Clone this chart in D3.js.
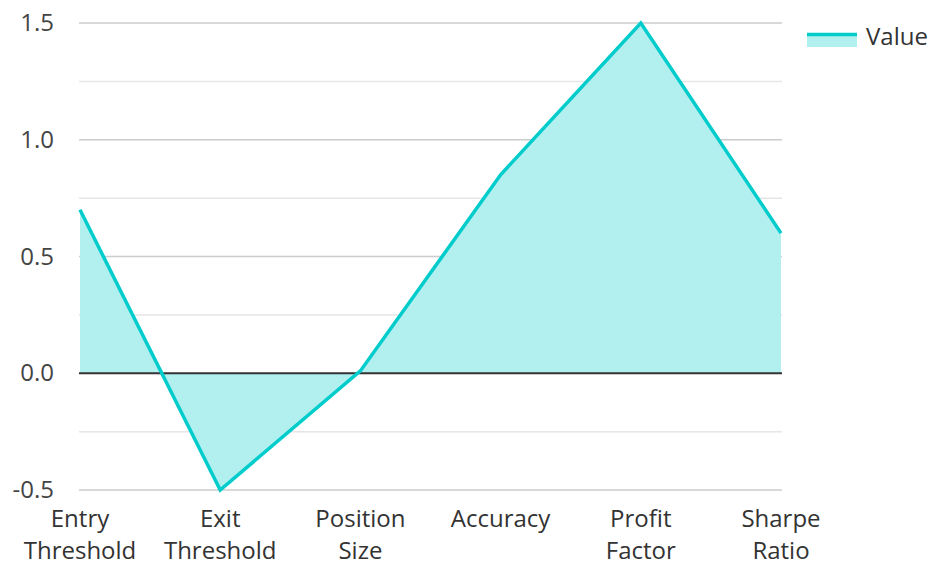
<!DOCTYPE html>
<html>
<head>
<meta charset="utf-8">
<script src="https://cdn.jsdelivr.net/npm/d3@7"></script>
<style>
  body { margin: 0; background: #fff; }
  svg { font-family: "Open Sans", "Noto Sans", sans-serif; }
</style>
</head>
<body>
<svg id="chart"></svg>
<script>
// chart data
const categories = ["Entry Threshold", "Exit Threshold", "Position Size", "Accuracy", "Profit Factor", "Sharpe Ratio"];
const values = [0.7, -0.5, 0.01, 0.85, 1.5, 0.6];
const majorTicks = [-0.5, 0, 0.5, 1.0, 1.5];
const minorTicks = [-0.25, 0.25, 0.75, 1.25];
const seriesName = "Value";

const width = 931, height = 562;
const margin = {top: 23, right: 150, bottom: 72, left: 80};
const lineColor = "#00cccc";
const fillColor = "#b2efef";
const fontSize = 24;

const svg = d3.select("#chart").attr("width", width).attr("height", height);

const data = categories.map((c, i) => ({cat: c, value: values[i]}));

const xScale = d3.scalePoint()
    .domain(categories)
    .range([margin.left, width - margin.right]);
const yScale = d3.scaleLinear()
    .domain([-0.5, 1.5])
    .range([height - margin.bottom, margin.top]);

const g = svg.append("g");

// minor grid
g.append("g").selectAll("line").data(minorTicks).join("line")
    .attr("x1", margin.left - 1).attr("x2", width - margin.right + 1)
    .attr("y1", d => yScale(d)).attr("y2", d => yScale(d))
    .attr("stroke", "#e6e6e6").attr("stroke-width", 1.5);

// major grid
g.append("g").selectAll("line").data(majorTicks.filter(d => d !== 0)).join("line")
    .attr("x1", margin.left - 1).attr("x2", width - margin.right + 1)
    .attr("y1", d => yScale(d)).attr("y2", d => yScale(d))
    .attr("stroke", "#cccccc").attr("stroke-width", 1.5);

// y axis labels (plain hyphen for negatives)
const yAxis = d3.axisLeft(yScale).tickValues(majorTicks).tickSize(0).tickPadding(26)
    .tickFormat(d => d.toFixed(1));
g.append("g")
    .attr("transform", `translate(${margin.left},0)`)
    .call(yAxis)
    .call(a => a.select(".domain").remove())
    .call(a => a.selectAll("text").attr("font-size", fontSize).attr("fill", "#444")
        .attr("font-family", "'Open Sans', sans-serif"));

// area
const area = d3.area()
    .x(d => xScale(d.cat))
    .y0(yScale(0))
    .y1(d => yScale(d.value));
g.append("path").datum(data)
    .attr("d", area)
    .attr("fill", fillColor);

// zero line
g.append("line")
    .attr("x1", margin.left - 1).attr("x2", width - margin.right + 1)
    .attr("y1", yScale(0)).attr("y2", yScale(0))
    .attr("stroke", "#333").attr("stroke-width", 2);

// line
const line = d3.line()
    .x(d => xScale(d.cat))
    .y(d => yScale(d.value));
g.append("path").datum(data)
    .attr("d", line)
    .attr("fill", "none")
    .attr("stroke", lineColor)
    .attr("stroke-width", 3.5)
    .attr("stroke-linejoin", "miter");

// x axis labels, wrapped on spaces
const xLabels = g.append("g").selectAll("text").data(categories).join("text")
    .attr("x", d => xScale(d))
    .attr("y", height - margin.bottom + 37)
    .attr("text-anchor", "middle")
    .attr("font-size", fontSize)
    .attr("fill", "#333");
xLabels.each(function(d) {
    const words = d.split(" ");
    const t = d3.select(this);
    words.forEach((w, i) => {
        t.append("tspan")
            .attr("x", xScale(d))
            .attr("dy", i === 0 ? 0 : 32)
            .text(w);
    });
});

// legend
const legend = svg.append("g").attr("transform", `translate(807,33)`);
legend.append("rect")
    .attr("x", 0).attr("y", 0).attr("width", 50).attr("height", 14)
    .attr("fill", fillColor);
legend.append("line")
    .attr("x1", 0).attr("x2", 50).attr("y1", 1.5).attr("y2", 1.5)
    .attr("stroke", lineColor).attr("stroke-width", 3.5);
legend.append("text")
    .attr("x", 59).attr("y", 12)
    .attr("font-size", fontSize).attr("fill", "#333")
    .text(seriesName);
</script>
</body>
</html>
